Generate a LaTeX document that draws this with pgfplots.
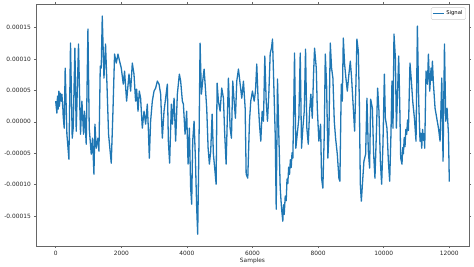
\documentclass[border=0pt]{standalone}
\usepackage{pgfplots}
\pgfplotsset{compat=1.18}
\usepackage{fontspec}
\setmainfont{DejaVu Sans}
\definecolor{mplblue}{HTML}{1F77B4}
\pgfplotstableread{
s v
0 3.30e-5
37 1.39e-5
55 4.09e-5
76 2.02e-5
98 4.89e-5
116 2.50e-5
137 4.57e-5
168 3.30e-5
189 4.41e-5
220 2.02e-5
229 0.91e-5
260 -1.00e-5
290 8.55e-5
342 -1.96e-5
403 -5.94e-5
452 12.53e-5
504 -2.59e-5
534 -1.00e-5
586 11.73e-5
626 -1.48e-5
696 12.37e-5
739 1.70e-5
757 -1.96e-5
800 3.30e-5
849 -1.96e-5
879 1.70e-5
931 -3.55e-5
983 14.76e-5
1023 -1.00e-5
1084 -5.14e-5
1124 -2.59e-5
1166 -8.33e-5
1197 -0.37e-5
1236 -4.19e-5
1288 -2.59e-5
1319 -4.66e-5
1359 8.87e-5
1389 8.55e-5
1420 16.83e-5
1472 6.96e-5
1520 12.37e-5
1563 6.00e-5
1612 -1.96e-5
1694 -6.57e-5
1746 1.70e-5
1795 10.78e-5
1847 9.35e-5
1899 10.78e-5
1948 9.66e-5
2000 8.55e-5
2061 6.00e-5
2100 8.07e-5
2162 3.30e-5
2235 7.59e-5
2284 4.89e-5
2336 9.35e-5
2387 7.59e-5
2436 3.30e-5
2467 5.21e-5
2510 1.70e-5
2549 4.89e-5
2589 3.77e-5
2641 -1.00e-5
2693 1.70e-5
2742 -0.37e-5
2793 2.82e-5
2824 -1.00e-5
2855 -5.78e-5
2894 0.11e-5
2946 3.30e-5
2998 4.89e-5
3047 5.37e-5
3099 6.48e-5
3151 6.00e-5
3200 4.41e-5
3251 -2.59e-5
3303 1.70e-5
3352 3.77e-5
3404 6.00e-5
3435 -3.07e-5
3474 -6.57e-5
3526 2.82e-5
3557 -0.37e-5
3609 3.77e-5
3657 -3.07e-5
3709 4.41e-5
3770 7.59e-5
3810 6.48e-5
3862 3.30e-5
3893 2.82e-5
3944 -1.96e-5
3993 1.70e-5
4036 -6.73e-5
4076 -1.00e-5
4115 -10.55e-5
4146 -13.10e-5
4177 -3.07e-5
4219 0.11e-5
4259 -5.78e-5
4299 -13.74e-5
4329 -17.88e-5
4372 -1.96e-5
4402 12.53e-5
4442 4.41e-5
4482 6.48e-5
4525 8.39e-5
4564 5.37e-5
4604 2.18e-5
4647 -4.19e-5
4686 -6.73e-5
4726 -4.66e-5
4769 1.23e-5
4808 -5.14e-5
4848 -7.37e-5
4891 -9.92e-5
4921 6.16e-5
4961 3.30e-5
5013 1.70e-5
5062 5.37e-5
5114 3.77e-5
5153 -1.96e-5
5196 -6.73e-5
5236 1.23e-5
5266 6.96e-5
5318 -1.00e-5
5358 -2.59e-5
5398 6.48e-5
5440 3.30e-5
5480 0.59e-5
5520 6.48e-5
5572 8.39e-5
5624 6.00e-5
5673 3.77e-5
5724 6.48e-5
5776 2.18e-5
5807 -8.33e-5
5856 -8.96e-5
5908 0.11e-5
5947 3.30e-5
5999 4.89e-5
6051 3.30e-5
6091 4.89e-5
6130 9.19e-5
6173 3.30e-5
6213 -0.37e-5
6253 -3.07e-5
6295 1.70e-5
6335 0.11e-5
6375 10.46e-5
6417 3.30e-5
6457 0.11e-5
6497 4.41e-5
6540 10.94e-5
6579 11.73e-5
6610 13.17e-5
6649 6.00e-5
6692 -1.96e-5
6723 -13.90e-5
6762 6.80e-5
6802 -1.96e-5
6845 -10.55e-5
6885 -13.74e-5
6924 -15.81e-5
6945 -13.20e-5
6967 -14.74e-5
6998 -11.80e-5
7028 -12.55e-5
7052 -9.10e-5
7077 -9.83e-5
7103 -7.20e-5
7129 -8.37e-5
7155 -6.00e-5
7181 -7.26e-5
7205 -4.90e-5
7230 -5.78e-5
7260 3.30e-5
7281 10.94e-5
7321 -4.19e-5
7364 -1.96e-5
7413 0.59e-5
7455 10.94e-5
7495 -4.19e-5
7535 -1.00e-5
7578 1.70e-5
7617 11.57e-5
7657 -1.00e-5
7700 -3.55e-5
7740 1.70e-5
7779 4.41e-5
7822 0.59e-5
7861 7.59e-5
7892 11.73e-5
7944 8.55e-5
7975 2.18e-5
8023 -3.07e-5
8075 -0.37e-5
8106 -8.96e-5
8145 -10.55e-5
8188 -1.96e-5
8219 10.78e-5
8258 6.00e-5
8298 -5.78e-5
8329 -1.96e-5
8371 12.53e-5
8411 8.55e-5
8451 6.96e-5
8493 0.11e-5
8533 -2.59e-5
8585 -5.14e-5
8634 -8.96e-5
8664 -9.44e-5
8707 6.00e-5
8738 3.30e-5
8768 13.33e-5
8808 9.19e-5
8848 6.96e-5
8890 4.89e-5
8939 7.59e-5
8982 9.66e-5
9021 6.96e-5
9061 3.30e-5
9113 -1.48e-5
9153 6.00e-5
9183 13.17e-5
9226 11.26e-5
9257 3.30e-5
9287 -9.92e-5
9318 -12.62e-5
9357 -9.44e-5
9397 -6.26e-5
9449 -5.14e-5
9489 3.77e-5
9531 -4.66e-5
9571 -7.37e-5
9602 3.61e-5
9654 2.18e-5
9693 -5.14e-5
9733 -8.96e-5
9776 -1.96e-5
9815 5.37e-5
9855 1.70e-5
9898 -6.26e-5
9937 -9.92e-5
9977 -3.55e-5
10020 7.59e-5
10050 0.59e-5
10099 -1.00e-5
10142 -6.26e-5
10182 -9.44e-5
10221 -1.96e-5
10252 6.48e-5
10283 -1.00e-5
10313 13.96e-5
10356 10.14e-5
10386 -1.00e-5
10426 5.37e-5
10457 10.46e-5
10487 3.30e-5
10518 -5.78e-5
10557 -6.73e-5
10580 -4.10e-5
10600 -5.07e-5
10625 -2.50e-5
10649 -3.96e-5
10675 -1.20e-5
10701 -2.00e-5
10727 0.30e-5
10753 -1.37e-5
10801 9.35e-5
10844 6.48e-5
10884 3.30e-5
10936 0.59e-5
10985 -3.07e-5
11027 15.24e-5
11067 3.30e-5
11107 -3.07e-5
11133 -1.80e-5
11159 -4.19e-5
11185 -1.20e-5
11211 -2.96e-5
11230 -1.90e-5
11250 -4.19e-5
11290 8.07e-5
11333 6.00e-5
11363 10.78e-5
11403 4.89e-5
11443 8.55e-5
11465 6.60e-5
11485 9.66e-5
11516 6.00e-5
11565 2.18e-5
11617 0.59e-5
11669 -1.00e-5
11718 -3.07e-5
11770 6.96e-5
11809 -6.26e-5
11852 12.37e-5
11892 0.11e-5
11931 2.18e-5
11974 -1.96e-5
12000 -9.50e-5
}\signaldata
\begin{document}
\begin{tikzpicture}
\useasboundingbox (-36bp,-21bp) rectangle (438bp,246bp);
\begin{axis}[
  at={(0,0)}, anchor=south west,
  scale only axis,
  width=433bp, height=242bp,
  xmin=-600, xmax=12600,
  ymin=-0.0001975, ymax=0.0001875,
  axis line style={black!60, line width=0.7bp},
  tick align=outside,
  major tick length=2bp,
  tick style={black!60, line width=0.5bp},
  xtick={0,2000,4000,6000,8000,10000,12000},
  ytick={-0.00015,-0.0001,-0.00005,0,0.00005,0.0001,0.00015},
  scaled x ticks=false, scaled y ticks=false,
  xticklabel style={/pgf/number format/1000 sep={}},
  yticklabel style={/pgf/number format/fixed, /pgf/number format/fixed zerofill, /pgf/number format/precision=5},
  /pgf/number format/assume math mode=true,
  ticklabel style={font=\fontsize{5.9}{6.8}\selectfont, black!85},
  xticklabel style={yshift=0.5bp},
  yticklabel style={xshift=0.3bp},
  xlabel={Samples},
  xlabel style={font=\fontsize{5.9}{6.8}\selectfont, black!85, yshift=4.5bp},
  legend style={at={(0.993,0.986)}, anchor=north east, draw=black!20, rounded corners=1.5bp, font=\fontsize{5.3}{6.2}\selectfont, inner sep=1.3bp, row sep=0pt},
  legend cell align=left,
  legend image code/.code={\draw[#1, line width=0.9bp] (0bp,0bp) -- (11bp,0bp);},
]
\addplot[color=mplblue, line width=1.3bp, line join=round] table[x=s, y=v] {\signaldata};
\addlegendentry{Signal}
\end{axis}
\end{tikzpicture}
\end{document}
